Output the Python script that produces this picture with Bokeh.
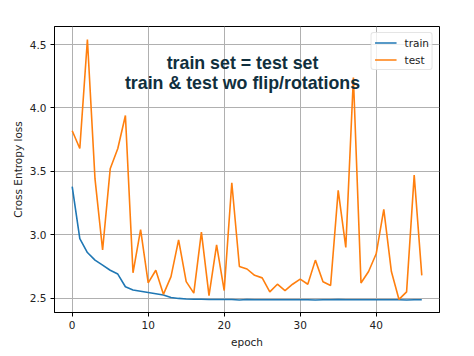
from bokeh.plotting import figure
from bokeh.models import Label, Legend, LegendItem, FixedTicker, PrintfTickFormatter, Range1d
from bokeh.embed import file_html
from bokeh.resources import INLINE

epochs = list(range(47))
train = [3.38, 2.97, 2.86, 2.80, 2.76, 2.72, 2.69, 2.59, 2.565, 2.555,
         2.545, 2.535, 2.525, 2.505, 2.498, 2.494, 2.492, 2.491, 2.490, 2.490,
         2.489, 2.489, 2.486, 2.489, 2.487, 2.488, 2.488, 2.488, 2.487, 2.487,
         2.488, 2.487, 2.486, 2.487, 2.488, 2.489, 2.487, 2.487, 2.487, 2.487,
         2.487, 2.488, 2.488, 2.487, 2.486, 2.487, 2.487]
test = [3.82, 3.68, 4.54, 3.44, 2.88, 3.52, 3.68, 3.94, 2.70, 3.04,
        2.62, 2.72, 2.53, 2.67, 2.96, 2.63, 2.54, 3.02, 2.52, 2.92,
        2.56, 3.41, 2.75, 2.73, 2.68, 2.66, 2.55, 2.61, 2.56, 2.61,
        2.65, 2.61, 2.80, 2.63, 2.60, 3.35, 2.90, 4.24, 2.62, 2.71,
        2.85, 3.20, 2.71, 2.49, 2.55, 3.47, 2.68]
x_ticks = [0, 10, 20, 30, 40]
y_ticks = [2.5, 3.0, 3.5, 4.0, 4.5]
title_lines = ["train set = test set", "train & test wo flip/rotations"]

p = figure(width=474, height=356, output_backend="svg", toolbar_location=None,
           min_border_left=54, min_border_right=35, min_border_top=26, min_border_bottom=44)
p.x_range = Range1d(-2.33, 48.33)
p.y_range = Range1d(2.387, 4.642)
p.background_fill_color = "white"
p.border_fill_color = "white"
p.outline_line_color = "black"
p.outline_line_width = 1

r_train = p.line(epochs, train, line_color="#1f77b4", line_width=1.6)
r_test = p.line(epochs, test, line_color="#ff7f0e", line_width=1.6)

for ax in (p.xaxis[0], p.yaxis[0]):
    ax.major_label_text_font = "DejaVu Sans"
    ax.major_label_text_font_size = "10.5px"
    ax.major_label_text_color = "#222222"
    ax.axis_label_text_font = "DejaVu Sans"
    ax.axis_label_text_font_size = "10.5px"
    ax.axis_label_text_font_style = "normal"
    ax.axis_label_text_color = "#222222"
    ax.minor_tick_line_color = None
    ax.major_tick_out = 4
    ax.major_tick_in = 0
    ax.axis_line_color = "black"

p.xaxis.ticker = FixedTicker(ticks=x_ticks)
p.yaxis.ticker = FixedTicker(ticks=y_ticks)
p.yaxis.formatter = PrintfTickFormatter(format="%.1f")
p.xaxis.axis_label = "epoch"
p.yaxis.axis_label = "Cross Entropy loss"
p.xaxis.axis_label_standoff = 4
p.yaxis.axis_label_standoff = 3
p.xaxis.major_label_standoff = 4
p.yaxis.major_label_standoff = 4

p.xgrid.ticker = FixedTicker(ticks=x_ticks)
p.ygrid.ticker = FixedTicker(ticks=y_ticks)
p.grid.grid_line_color = "#b0b0b0"
p.grid.grid_line_width = 1

legend = Legend(items=[LegendItem(label="train", renderers=[r_train]),
                       LegendItem(label="test", renderers=[r_test])],
                location="top_right")
legend.label_text_font = "DejaVu Sans"
legend.label_text_font_size = "10.5px"
legend.label_text_color = "#222222"
legend.glyph_width = 22
legend.glyph_height = 13
legend.label_height = 13
legend.label_standoff = 8
legend.spacing = 4
legend.padding = 3
legend.margin = 6
legend.border_line_color = "#cccccc"
legend.border_radius = 3
legend.background_fill_alpha = 0.8
p.add_layout(legend)

for txt, yy in zip(title_lines, [250, 230]):
    p.add_layout(Label(x=188, y=yy, x_units="screen", y_units="screen", text=txt,
                       text_align="center", text_baseline="middle",
                       text_font="Liberation Sans", text_font_style="bold",
                       text_font_size="17.8px", text_color="#102f3d"))

open("out.html", "w").write(file_html(p, INLINE))
